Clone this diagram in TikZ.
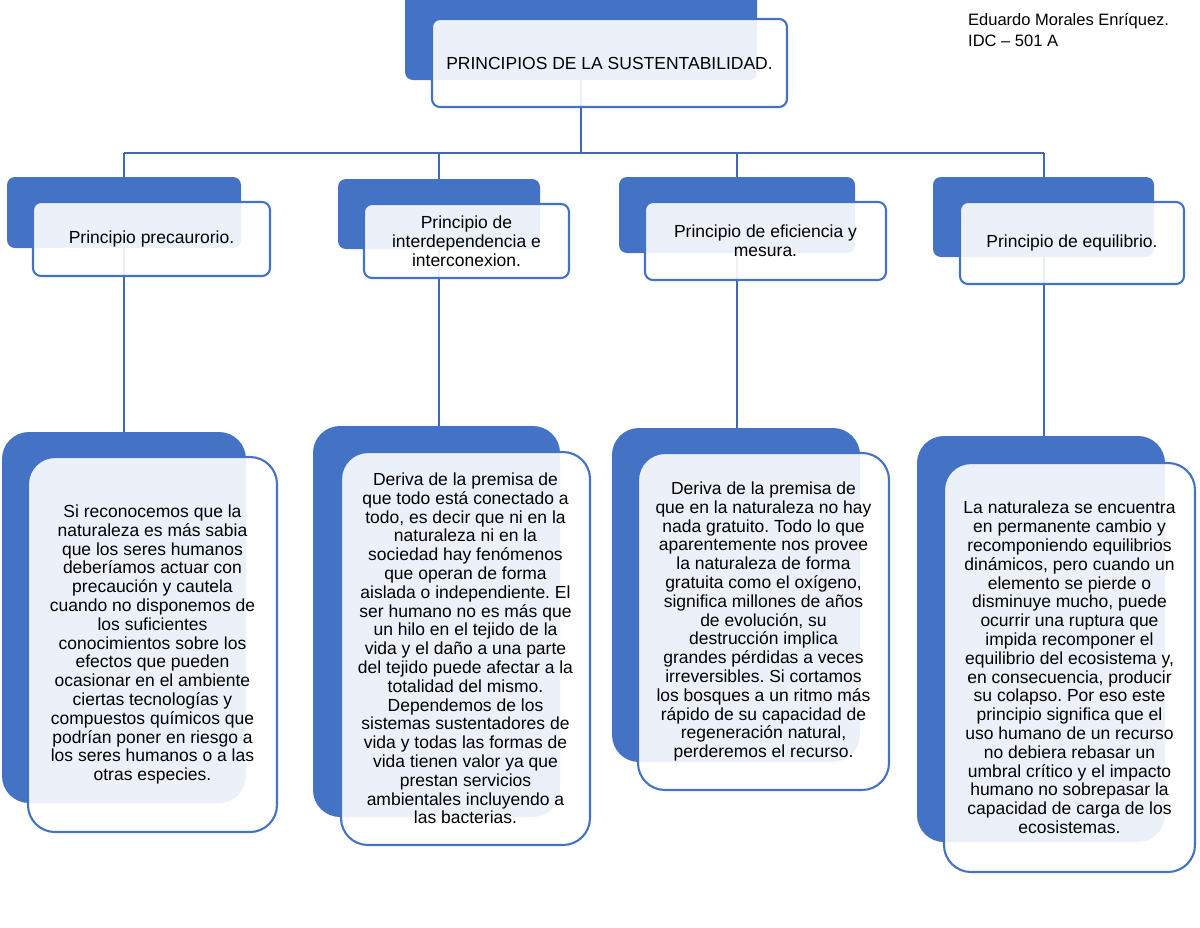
\documentclass[tikz,border=0pt]{standalone}
\usepackage{fontspec}
\setmainfont{Liberation Sans}
\frenchspacing
\definecolor{accent}{HTML}{4472C4}
\definecolor{connc}{HTML}{3F69B8}
\begin{document}
\begin{tikzpicture}[x=1pt,y=-1pt,
  darkbox/.style={draw=none,fill=accent,rounded corners=#1,inner sep=0pt},
  darkbox/.default=8pt,
  lightbox/.style={draw=accent,line width=2.1pt,fill=white,fill opacity=0.9,text opacity=1,
    rounded corners=#1,inner sep=0pt,align=center,font=\fontsize{17.5}{18.8}\selectfont},
  lightbox/.default=8pt,
  conn/.style={draw=connc,line width=2pt},
  author/.style={inner sep=0pt,align=left,anchor=north west,font=\fontsize{16.5}{21}\selectfont}]
\useasboundingbox (0,0) rectangle (1200,927);
\begin{scope}
\clip (0,0) rectangle (1200,927);
% dark boxes
\node[darkbox, minimum width=352pt, minimum height=90pt] (dT) at (581,35) {};
\node[darkbox, minimum width=234pt, minimum height=71pt] (dA) at (124,212.5) {};
\node[darkbox, minimum width=202pt, minimum height=70pt] (dB) at (439,214) {};
\node[darkbox, minimum width=236pt, minimum height=76pt] (dC) at (737,215) {};
\node[darkbox, minimum width=221pt, minimum height=80pt] (dD) at (1043.5,217) {};
\node[darkbox=27pt, minimum width=244pt, minimum height=371pt] (eA) at (124,617.5) {};
\node[darkbox=27pt, minimum width=247pt, minimum height=391pt] (eB) at (436.5,621.5) {};
\node[darkbox=27pt, minimum width=248pt, minimum height=334pt] (eC) at (736,595) {};
\node[darkbox=27pt, minimum width=248pt, minimum height=406pt] (eD) at (1041,639) {};
\end{scope}
% connectors
\coordinate (bus) at (0,153);
\draw[conn] (dT.south) -- (dT.south |- bus);
\draw[conn] (dA.north |- bus) -- (dD.north |- bus);
\draw[conn] (dA.north |- bus) -- (dA.north);
\draw[conn] (dB.north |- bus) -- (dB.north);
\draw[conn] (dC.north |- bus) -- (dC.north);
\draw[conn] (dD.north |- bus) -- (dD.north);
\draw[conn] (dA.south) -- (dA.south |- eA.north);
\draw[conn] (dB.south) -- (dB.south |- eB.north);
\draw[conn] (dC.south) -- (dC.south |- eC.north);
\draw[conn] (dD.south) -- (dD.south |- eD.north);
% light boxes
\node[lightbox, minimum width=355pt, minimum height=88pt] (lT) at (609.5,63) {PRINCIPIOS DE LA SUSTENTABILIDAD.};
\node[lightbox, minimum width=237pt, minimum height=74pt] (lA) at (151.5,239) {Principio precaurorio.};
\node[lightbox, minimum width=205pt, minimum height=74pt] (lB) at (466.5,241) {Principio de\\interdependencia e\\interconexion.};
\node[lightbox, minimum width=241pt, minimum height=78pt] (lC) at (765.5,241) {Principio de eficiencia y\\mesura.};
\node[lightbox, minimum width=224pt, minimum height=82pt] (lD) at (1072,243) {Principio de equilibrio.};
\node[lightbox=27pt, minimum width=249pt, minimum height=375pt] (mA) at (152.5,644.5) {Si reconocemos que la\\naturaleza es más sabia\\que los seres humanos\\deberíamos actuar con\\precaución y cautela\\cuando no disponemos de\\los suficientes\\conocimientos sobre los\\efectos que pueden\\ocasionar en el ambiente\\ciertas tecnologías y\\compuestos químicos que\\podrían poner en riesgo a\\los seres humanos o a las\\otras especies.};
\node[lightbox=27pt, minimum width=249pt, minimum height=393pt] (mB) at (465.5,648.5) {Deriva de la premisa de\\que todo está conectado a\\todo, es decir que ni en la\\naturaleza ni en la\\sociedad hay fenómenos\\que operan de forma\\aislada o independiente. El\\ser humano no es más que\\un hilo en el tejido de la\\vida y el daño a una parte\\del tejido puede afectar a la\\totalidad del mismo.\\Dependemos de los\\sistemas sustentadores de\\vida y todas las formas de\\vida tienen valor ya que\\prestan servicios\\ambientales incluyendo a\\las bacterias.};
\node[lightbox=27pt, minimum width=251pt, minimum height=337pt] (mC) at (763.5,621.5) {Deriva de la premisa de\\que en la naturaleza no hay\\nada gratuito. Todo lo que\\aparentemente nos provee\\la naturaleza de forma\\gratuita como el oxígeno,\\significa millones de años\\de evolución, su\\destrucción implica\\grandes pérdidas a veces\\irreversibles. Si cortamos\\los bosques a un ritmo más\\rápido de su capacidad de\\regeneración natural,\\perderemos el recurso.};
\node[lightbox=27pt, minimum width=251pt, minimum height=409pt] (mD) at (1069.5,667.5) {La naturaleza se encuentra\\en permanente cambio y\\recomponiendo equilibrios\\dinámicos, pero cuando un\\elemento se pierde o\\disminuye mucho, puede\\ocurrir una ruptura que\\impida recomponer el\\equilibrio del ecosistema y,\\en consecuencia, producir\\su colapso. Por eso este\\principio significa que el\\uso humano de un recurso\\no debiera rebasar un\\umbral crítico y el impacto\\humano no sobrepasar la\\capacidad de carga de los\\ecosistemas.};
% author
\node[author] (auth) at (968,13) {Eduardo Morales Enríquez.\\IDC – 501 A};
\end{tikzpicture}
\end{document}
